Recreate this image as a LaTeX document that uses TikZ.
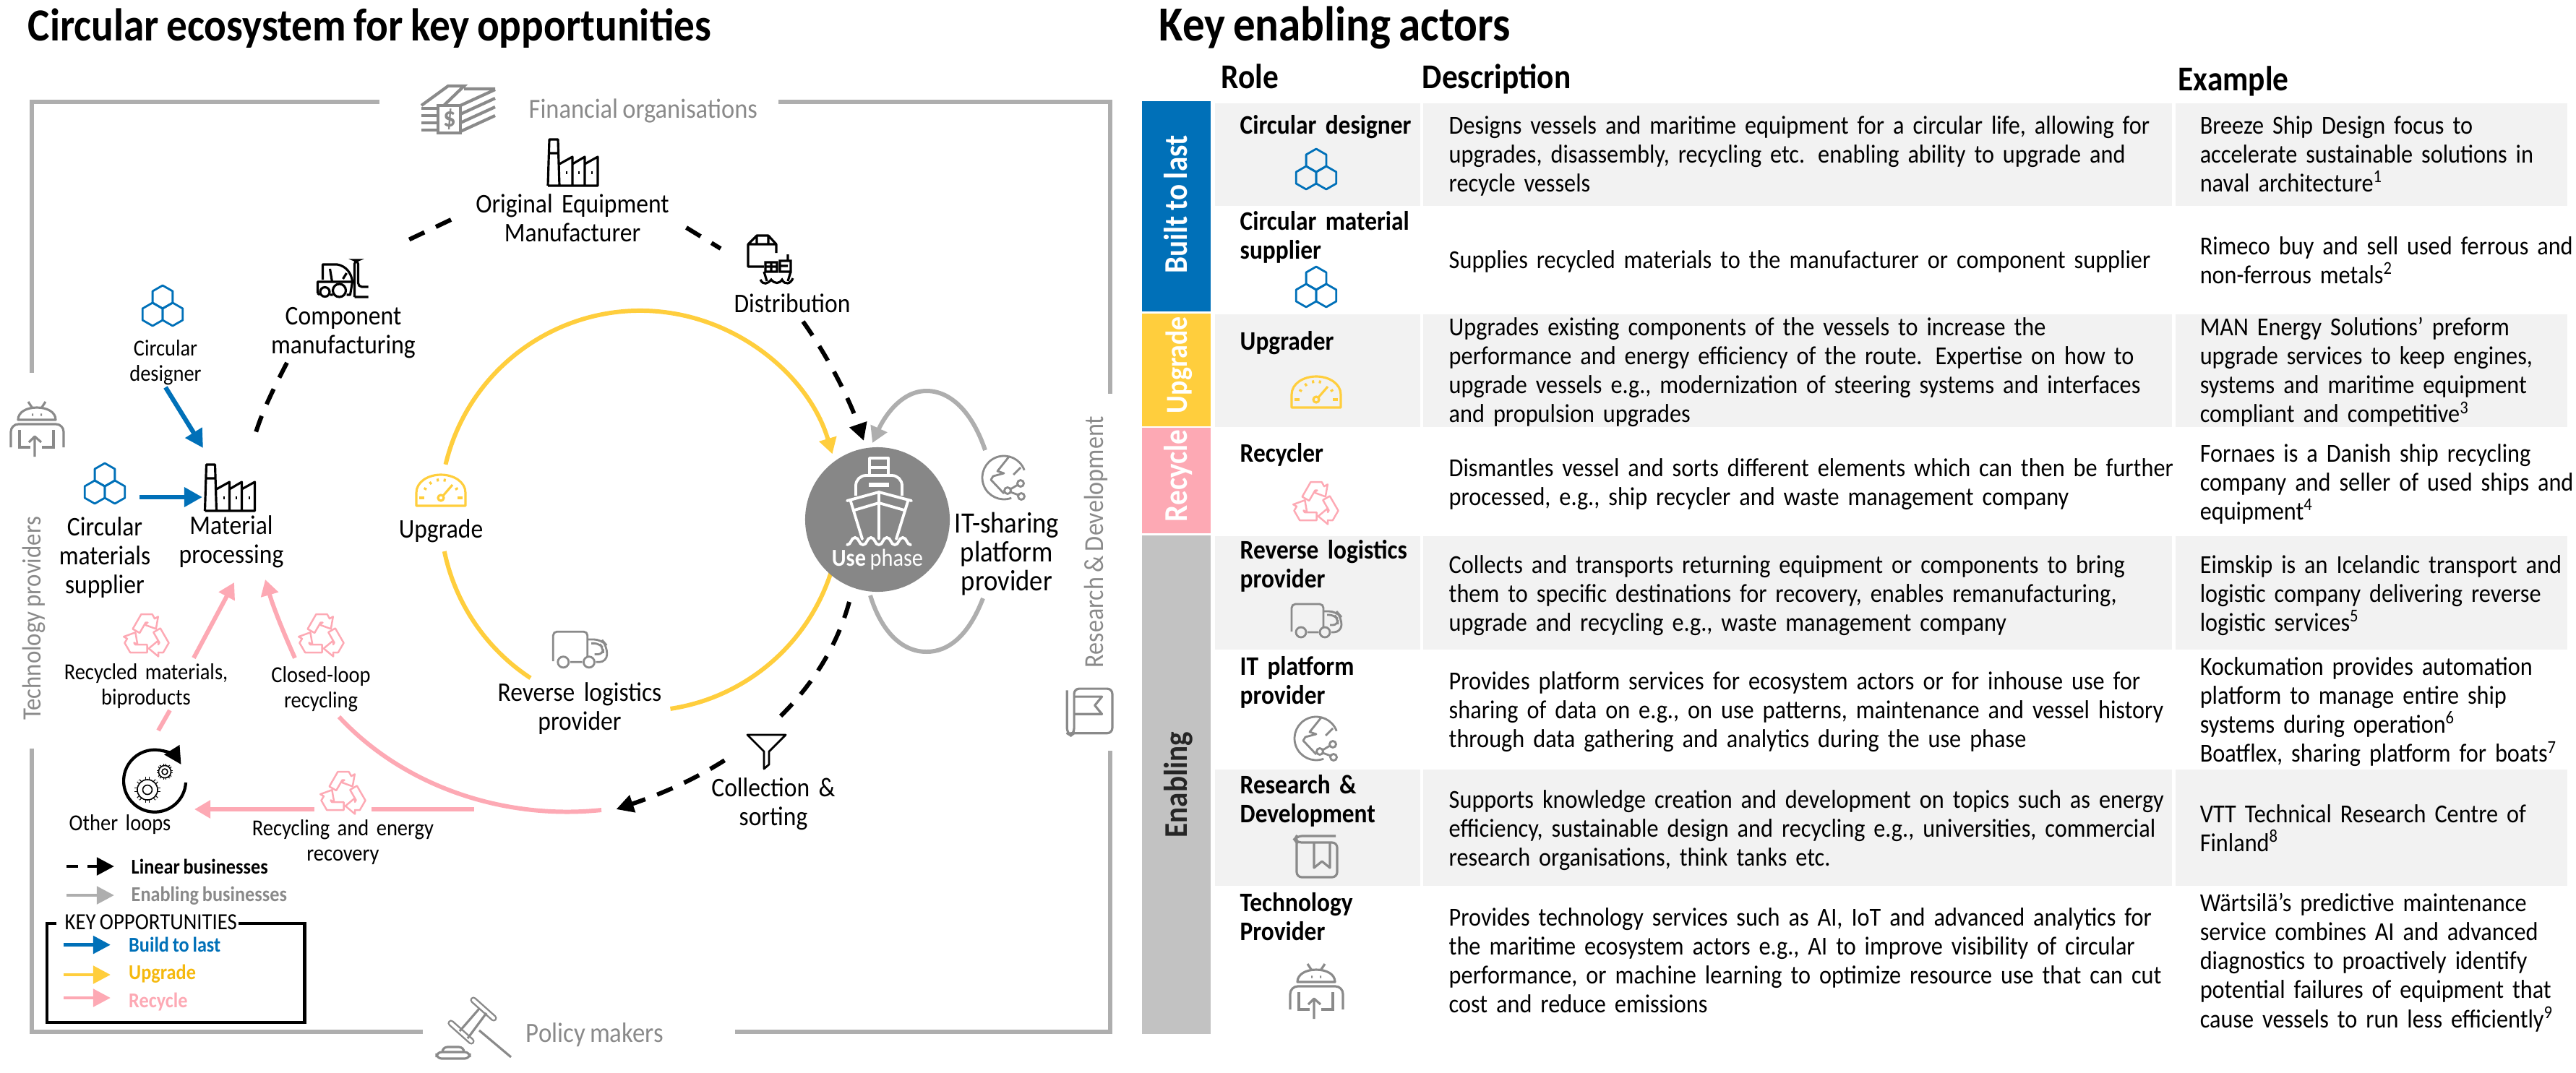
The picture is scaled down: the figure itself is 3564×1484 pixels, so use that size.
\documentclass[tikz,border=0pt]{standalone}
\usepackage{fontspec}
\setmainfont{Carlito}[FakeStretch=0.9,WordSpace=0.8]
\usetikzlibrary{arrows.meta}

\definecolor{mblue}{HTML}{0070B8}
\definecolor{myellow}{HTML}{FFCE3D}
\definecolor{mpink}{HTML}{FDA9B4}
\definecolor{mband}{HTML}{C2C2C2}
\definecolor{mcell}{HTML}{F2F2F2}
\definecolor{mframe}{HTML}{AEAEAE}
\definecolor{mgrey}{HTML}{8A8A8A}
\definecolor{mlegend}{HTML}{F5B90F}

\tikzset{
    frameline/.style={mframe, line width=1.7pt},
    bluearrow/.style={mblue, line width=1.8pt, -{Triangle[length=0.25cm,width=0.26cm]}},
    yellowline/.style={myellow, line width=1.7pt},
    yellowarrow/.style={yellowline, -{Triangle[length=0.22cm,width=0.24cm]}},
    pinkline/.style={mpink, line width=1.7pt},
    pinkarrow/.style={pinkline, -{Triangle[length=0.22cm,width=0.24cm]}},
    greyline/.style={mframe, line width=1.7pt},
    greyarrow/.style={greyline, -{Triangle[length=0.22cm,width=0.24cm]}},
    dashline/.style={black, line width=1.7pt, dash pattern=on 6.6pt off 5pt},
    dasharrow/.style={dashline, -{Triangle[length=0.24cm,width=0.24cm]}},
    tabletext/.style={anchor=base west, inner sep=0pt, align=left, font=\fontsize{10.2}{11.45}\selectfont},
    desctext/.style={tabletext, text width=10.6cm},
    exampletext/.style={tabletext, text width=5.7cm},
    roletext/.style={tabletext, text width=2.85cm, font=\fontsize{10.55}{11.45}\selectfont\bfseries},
    headtext/.style={anchor=base west, inner sep=0pt, font=\fontsize{13.7}{15}\selectfont\bfseries},
    titletext/.style={anchor=base west, inner sep=0pt, font=\fontsize{18.1}{22}\selectfont\bfseries},
    bandtext/.style={rotate=90, inner sep=0pt, text=white, font=\fontsize{13}{15}\selectfont\bfseries},
    actorlabel/.style={anchor=base, inner sep=0pt, text width=3.8cm, align=center, font=\fontsize{10.6}{11.45}\selectfont},
    smalllabel/.style={anchor=base, inner sep=0pt, text width=3.6cm, align=center, font=\fontsize{9}{10.1}\selectfont},
    sidelabel/.style={inner sep=0pt, text=mgrey, font=\fontsize{10.4}{12}\selectfont},
    legendtext/.style={anchor=base west, inner sep=0pt, font=\fontsize{8.3}{10}\selectfont\bfseries},
    pics/hexicon/.style={code={
        \foreach \cx/\cy in {0/-12,-13.9/12,13.9/12}
            \draw[#1, line width=0.8pt, line join=round] ({\cx},{\cy-16}) -- ({\cx+13.9},{\cy-8}) -- ({\cx+13.9},{\cy+8})
                -- ({\cx},{\cy+16}) -- ({\cx-13.9},{\cy+8}) -- ({\cx-13.9},{\cy-8}) -- cycle;
    }},
    pics/factoryicon/.style={code={
        \draw[#1, line width=0.9pt, line join=round] (-34,32) -- (-32,-32) -- (-20,-32) -- (-18,32)
            (-32,-13) -- (-20,-13)
            (-34,32) -- (35,32) -- (35,-8) -- (17,2) -- (17,-8) -- (0,2) -- (0,-8) -- (-18,2)
            (0,2) -- (0,32) (17,2) -- (17,32);
        \draw[#1, line width=0.9pt] (-9,14) -- (-7,14) (8,14) -- (10,14) (26,14) -- (28,14);
    }},
    pics/recycleicon/.style={code={
        \foreach \rr in {0,120,240}
            \draw[#1, line width=0.7pt, line join=round, rotate=\rr, scale=1.1] (-17.6,-9.6) -- (-7,-28) -- (7,-28) -- (10,-22.6)
                -- (14.35,-25.1) -- (11.65,-9.7) -- (-3,-15.1) -- (1.3,-17.6) -- (-1.4,-17.6) -- (-8.9,-4.6) -- cycle;
    }},
    pics/gaugeicon/.style={code={
        \draw[#1, line width=0.9pt, line join=round] (-34,21) -- (-34,3) .. controls (-34,-12) and (-18,-22) .. (0,-22)
            .. controls (18,-22) and (34,-12) .. (34,3) -- (34,21) -- cycle;
        \foreach \aa in {150,125,100,78}
            \draw[#1, line width=0.9pt] ({23*cos(\aa)},{10-23*sin(\aa)}) -- ({27*cos(\aa)},{10-27*sin(\aa)});
        \draw[#1, line width=0.9pt] ({23*cos(30)},{10-23*sin(30)}) -- ({27*cos(30)},{10-27*sin(30)});
        \draw[#1, line width=0.9pt] (-30,10) -- (-23,10) (23,10) -- (30,10);
        \draw[#1, line width=0.9pt] (0,10) circle (4) (3,7) -- (16,-8);
    }},
    pics/truckicon/.style={code={
        \draw[#1, line width=0.8pt, rounded corners=1.5pt] (-34,15) -- (-34,-23) -- (10,-23) -- (10,9);
        \draw[#1, line width=0.8pt, rounded corners=3pt] (10,-13) -- (28,-13) -- (35,-5) -- (35,16) -- (21,16);
        \draw[#1, line width=0.8pt, rounded corners=2pt] (15,-8) -- (25,-8) -- (30,-2) -- (30,6) -- (19,6);
        \draw[#1, line width=0.8pt] (-21,16) circle (7) (12,16) circle (7) (-12,16) -- (3,16);
    }},
    pics/globeicon/.style={code={
        \draw[#1, line width=0.8pt] (28.2,-12.3) arc[start angle=340, end angle=70, radius=30];
        \draw[#1, line width=0.8pt, line join=round] (7,-31) -- (-9,-11) -- (0,-8) -- (-15,-4) -- (-18,1) -- (0,20)
            (23,-16) -- (13,-6);
        \draw[#1, line width=0.8pt] (23,6) circle (4.5) (5,16) circle (4.5) (24,24) circle (4.5)
            (9,14) -- (19,8) (9,18) -- (20,22);
    }},
    pics/bookicon/.style={code={
        \draw[#1, line width=0.9pt, rounded corners=2pt] (27,-28) -- (-27,-28) -- (-30,-23) -- (-27,-19) -- (29,-19) -- (29,29) -- (-27,29) -- (-27,-24);
        \draw[#1, line width=0.9pt, line join=round] (-3,-19) -- (-3,16) -- (8,7) -- (19,16) -- (19,-19);
    }},
    pics/androidicon/.style={code={
        \draw[#1, line width=0.9pt, line join=round] (-26,-13) .. controls (-26,-24) and (-14,-30) .. (0,-30)
            .. controls (14,-30) and (26,-24) .. (26,-13) -- cycle;
        \draw[#1, line width=0.9pt] (-12,-38) -- (-6,-29) (12,-38) -- (6,-29)
            (-7,-20) -- (-5,-20) (5,-20) -- (7,-20);
        \draw[#1, line width=0.9pt, rounded corners=3pt] (-36,25) -- (-36,-7) -- (37,-7) -- (37,25);
        \draw[#1, line width=0.9pt] (-24,1) -- (-24,25) -- (-9,25) (23,1) -- (23,25) -- (7,25);
        \draw[#1, line width=0.9pt, line join=round] (-3,38) -- (-3,10) (-11,18) -- (-3,10) -- (6,18);
    }},
    pics/moneyicon/.style={code={
        \draw[#1, line width=1.2pt] (-28,-6) rectangle (3,32);
        \foreach \oo in {0,12,24,36}
            \draw[#1, line width=1.2pt] (3,{-6+\oo}) -- (51,{-28+\oo});
        \foreach \yy in {-2,8,18,28}
            \draw[#1, line width=1.2pt] (-51,\yy) -- (-28,\yy);
        \draw[#1, line width=1.2pt] (-51,-6) -- (-14,-33) -- (8,-33) -- (-20,-6) (8,-29) -- (51,-29);
        \node[inner sep=0pt, text=mgrey, font=\fontsize{11}{11}\selectfont\bfseries] (moneysign) at (-12,13) {\$};
    }},
    pics/gavelicon/.style={code={
        \draw[#1, line width=0.7pt, line cap=round, double=white, double distance=1.2pt] (-32,-8) -- (-4,17) (-1,-40) -- (27,-15);
        \draw[#1, line width=0.9pt] (-20,3) -- (7,-28) (-9,13) -- (17,-22) (7,2) -- (51,39);
        \draw[#1, line width=0.9pt, rounded corners=2pt] (-44,32) -- (-44,25) -- (-14,25) -- (-14,32) (-52,41) rectangle (-6,32);
    }},
    pics/forklifticon/.style={code={
        \draw[#1, line width=0.9pt, line join=round] (-28,1) -- (-28,-20) -- (-8,-20) .. controls (4,-18) and (12,-8) .. (13,4) -- (10,22) -- (5,22)
            (-35,20) -- (-35,4) -- (13,4) (-35,20) -- (-32,22) (-18,22) -- (-14,22);
        \draw[#1, line width=0.9pt] (-25,18) circle (6.5) (-5,16) circle (9) (-18,-14) -- (-15,4) (5,-8) -- (0,0);
        \draw[#1, line width=0.9pt, rounded corners=1.5pt] (16,25) -- (16,-26) -- (21,-26) -- (21,11) -- (35,11) (16,25) -- (35,25);
    }},
    pics/boxshipicon/.style={code={
        \draw[#1, line width=0.9pt, line join=round] (-9,10) -- (-31,10) -- (-31,-21) -- (8,-21) -- (8,-9)
            (-31,-21) -- (-19,-33) -- (-3,-33) -- (8,-21) (-19,-33) -- (-19,-21) (-3,-33) -- (-3,-21);
        \draw[#1, line width=0.9pt] (-7,4) rectangle (9,17) (-7,10) -- (9,10) (1,4) -- (1,17)
            (13,2) rectangle (28,17) (13,9) -- (24,9) (24,2) -- (24,-7)
            (-9,17) -- (-5,30) (28,17) -- (24,30);
        \draw[#1, line width=0.9pt] (-14,28) .. controls (-10,36) and (-4,34) .. (1,28) .. controls (6,34) and (12,34) .. (16,28)
            .. controls (20,36) and (28,34) .. (31,26);
    }},
    pics/shipicon/.style={code={
        \draw[#1, line width=1.1pt, line join=round] (-13,-36) -- (-13,-60) -- (13,-60) -- (13,-36) (-13,-47) -- (13,-47);
        \draw[#1, line width=1.1pt, rounded corners=4pt] (-32,-8) -- (-32,-36) -- (32,-36) -- (32,-8);
        \draw[#1, line width=1.6pt] (-14,-23) -- (14,-23);
        \draw[#1, line width=1.1pt, line join=round, line cap=round] (-44,-1) -- (0,-13) -- (45,-1)
            (-34,12) -- (0,2) -- (35,12) (-39,0) -- (-23,52) (40,0) -- (24,52) (0,-13) -- (0,52);
        \foreach \wx in {-44,-22,0,22}
            \draw[#1, line width=1.1pt, line cap=round] ({\wx},60) .. controls ({\wx+6},60) and ({\wx+5},50) .. ({\wx+11},50)
                .. controls ({\wx+17},50) and ({\wx+16},60) .. ({\wx+22},60);
    }},
    pics/funnelicon/.style={code={
        \draw[#1, line width=0.8pt, line join=round] (-26,-23) -- (27,-23) -- (4,0) -- (4,18) -- (-3,24) -- (-3,0) -- cycle;
    }},
    pics/gearicon/.style={code={
        \foreach \aa in {0,45,...,315}
            \draw[black, line width=0.35pt, double=white, double distance=#1*0.05pt] ({cos(\aa)*#1*0.7},{sin(\aa)*#1*0.7}) -- ({cos(\aa)*#1},{sin(\aa)*#1});
        \draw[black, fill=white, line width=0.45pt] (0,0) circle ({#1*0.78});
        \draw[black, line width=0.45pt] (0,0) circle ({#1*0.36});
    }}
}

\begin{document}
\begin{tikzpicture}[line cap=butt, line join=miter, x=0.01cm, y=-0.01cm]
    \useasboundingbox (0,0) rectangle (3564,1484);

    % titles
    \node[titletext] (ecotitle) at (38,56) {Circular ecosystem for key opportunities};
    \node[titletext, font=\fontsize{19.3}{22}\selectfont\bfseries] (actortitle) at (1603,56) {Key enabling actors};

    % outer frame
    \draw[frameline] (44,516) -- (44,141) -- (525,141);
    \draw[frameline] (1077,141) -- (1536,141) -- (1536,545);
    \draw[frameline] (1536,1039) -- (1536,1428) -- (1017,1428);
    \draw[frameline] (585,1428) -- (44,1428) -- (44,1036);

    \pic at (634,152) {moneyicon=mgrey};
    \node[anchor=base west, inner sep=0pt, text=mgrey, font=\fontsize{10.9}{12}\selectfont] (finance) at (731,163) {Financial organisations};
    \pic at (656,1424) {gavelicon=mgrey};
    \node[anchor=base west, inner sep=0pt, text=mgrey, font=\fontsize{11}{12}\selectfont] (policy) at (727,1442) {Policy makers};
    \pic at (51,594) {androidicon=mgrey};
    \node[sidelabel, rotate=90, anchor=base] (techprov) at (57,856) {Technology providers};
    \pic[rotate=90, scale=1.1] at (1507,985) {bookicon=mgrey};
    \node[sidelabel, rotate=90, anchor=base, font=\fontsize{10.8}{12}\selectfont] (resdev) at (1526,750) {Research \& Development};

    % big ring
    \coordinate (ringA) at (616.5,642.8);
    \coordinate (ringB) at (614.8,763);
    \coordinate (ringC) at (927.5,980.9);
    \draw[yellowarrow] (ringA) arc[start angle=193.4, end angle=343.5, radius=277];
    \draw[yellowline] (ringB) arc[start angle=168.3, end angle=123.3, radius=277];
    \draw[yellowline] (ringC) arc[start angle=81.4, end angle=17, radius=277];

    % it sharing loop
    \coordinate (itA) at (1363,623);
    \coordinate (itB) at (1360,828);
    \coordinate (useA) at (1207,613);
    \coordinate (useB) at (1204,824);
    \draw[greyarrow] (itA) .. controls (1345,570) and (1315,541) .. (1282,541) .. controls (1245,541) and (1222,580) .. (useA);
    \draw[greyline] (itB) .. controls (1340,880) and (1312,902) .. (1282,902) .. controls (1245,902) and (1218,870) .. (useB);

    % use phase
    \node[circle, fill=mgrey!98!black, minimum size=2cm, inner sep=0pt] (usephase) at (1214,719) {};
    \pic at (1216,694) {shipicon=white};
    \node[anchor=base, inner sep=0pt, text=white, font=\fontsize{9.6}{11.45}\selectfont] (uselabel) at (1214,783) {\textbf{Use} phase};

    % linear chain
    \coordinate (oemW) at (624,304);
    \coordinate (compN) at (563,333);
    \coordinate (compS) at (397,502);
    \coordinate (matN) at (352,605);
    \coordinate (oemE) at (949.5,315);
    \coordinate (distW) at (997,344);
    \coordinate (distS) at (1111,445);
    \coordinate (useN) at (1195,610);
    \coordinate (useS) at (1175,833);
    \coordinate (loopEnd) at (852.5,1120);
    \draw[dashline] (oemW) -- (compN);
    \draw[dashline] (compS) .. controls (380,535) and (362,570) .. (matN);
    \draw[dashline] (oemE) -- (distW);
    \draw[dasharrow] (distS) .. controls (1150,500) and (1178,560) .. (useN);
    \draw[dasharrow] (useS) .. controls (1140,960) and (1030,1060) .. (loopEnd);
    \fill[white] (1006,994) rectangle (1095,1064);

    % actors on the linear chain
    \pic at (792,225) {factoryicon=black};
    \node[actorlabel] (oem) at (792,294) {Original Equipment\\Manufacturer};
    \pic at (474.5,386) {forklifticon=black};
    \node[actorlabel] (component) at (475,449) {Component\\manufacturing};
    \pic at (1066,359) {boxshipicon=black};
    \node[actorlabel] (distribution) at (1096,432) {Distribution};
    \pic at (1389,663) {globeicon=mgrey};
    \node[actorlabel, font=\fontsize{11.6}{11.45}\selectfont] (itsharing) at (1393,737) {IT-sharing\\platform\\provider};
    \pic at (1060,1040) {funnelicon=black};
    \node[actorlabel] (collection) at (1070,1102) {Collection \&\\sorting};
    \pic[scale=1.08] at (802,899) {truckicon=mgrey};
    \node[actorlabel] (reverse) at (802,970) {Reverse logistics\\provider};
    \pic at (610,679) {gaugeicon=myellow};
    \node[actorlabel] (upgrade) at (610,744) {Upgrade};

    % build to last
    \pic at (225,423) {hexicon=mblue};
    \node[smalllabel] (designer) at (229,492) {Circular\\designer};
    \pic at (145,669) {hexicon=mblue};
    \node[actorlabel] (supplier) at (145,741) {Circular\\materials\\supplier};
    \pic at (317.5,675) {factoryicon=black};
    \node[actorlabel] (processing) at (320,739) {Material\\processing};
    \coordinate (designerS) at (229,536);
    \coordinate (factoryA) at (281,620);
    \coordinate (supplierE) at (193,688);
    \coordinate (factoryB) at (280,688);
    \draw[bluearrow] (designerS) -- (factoryA);
    \draw[bluearrow] (supplierE) -- (factoryB);

    % recycle
    \pic at (203,881) {recycleicon=mpink};
    \pic at (445,881) {recycleicon=mpink};
    \pic at (475,1099) {recycleicon=mpink};
    \node[smalllabel] (recycled) at (202,940) {Recycled materials,\\biproducts};
    \node[smalllabel] (closedloop) at (444,944) {Closed-loop\\recycling};
    \node[smalllabel] (energy) at (474.5,1156) {Recycling and energy\\recovery};
    \coordinate (recycledN) at (268,910.6);
    \coordinate (processA) at (324,806);
    \coordinate (recycledS) at (235,983);
    \coordinate (loopsN) at (219,1011);
    \coordinate (closedN) at (408,910.6);
    \coordinate (processB) at (367,802);
    \coordinate (closedS) at (469,992);
    \coordinate (pinkEnd) at (832,1121);
    \coordinate (energyE) at (656,1120);
    \coordinate (energyA) at (514,1120);
    \coordinate (energyB) at (435,1120);
    \coordinate (loopsE) at (269,1120);
    \draw[pinkarrow] (recycledN) -- (processA);
    \draw[pinkline] (recycledS) -- (loopsN);
    \draw[pinkarrow] (closedN) .. controls (392,875) and (378,840) .. (processB);
    \draw[pinkline] (closedS) .. controls (560,1090) and (700,1135) .. (pinkEnd);
    \draw[pinkline] (energyE) -- (energyA);
    \draw[pinkarrow] (energyB) -- (loopsE);

    % other loops
    \coordinate (loopA) at (257,1083);
    \draw[black, line width=1.2pt, -{Triangle[length=0.24cm,width=0.24cm]}] (loopA) arc[start angle=3, end angle=328, radius=43];
    \pic at (204,1093) {gearicon=18};
    \pic at (228,1068) {gearicon=11};
    \node[smalllabel] (otherloops) at (166,1149) {Other loops};

    % legend
    \coordinate (linA) at (92,1199);
    \coordinate (linB) at (108,1199);
    \coordinate (linC) at (121,1199);
    \coordinate (linD) at (158,1199);
    \coordinate (enbA) at (92,1239);
    \coordinate (enbB) at (158,1239);
    \draw[black, line width=1.4pt] (linA) -- (linB);
    \draw[black, line width=1.4pt, -{Triangle[length=0.24cm,width=0.24cm]}] (linC) -- (linD);
    \draw[mframe, line width=1.4pt, -{Triangle[length=0.24cm,width=0.24cm]}] (enbA) -- (enbB);
    \node[legendtext] (linear) at (181,1209) {Linear businesses};
    \node[legendtext, text=mgrey] (enabling) at (181,1247) {Enabling businesses};

    \draw[black, line width=1.2pt] (78,1278) -- (65,1278) -- (65,1415) -- (421.5,1415) -- (421.5,1278) -- (330,1278);
    \node[legendtext, font=\fontsize{9.1}{10}\selectfont] (keyopp) at (89,1286) {KEY OPPORTUNITIES};
    \coordinate (keyA) at (88,1307.6);
    \coordinate (keyB) at (153,1307.6);
    \coordinate (keyC) at (88,1349);
    \coordinate (keyD) at (153,1349);
    \coordinate (keyE) at (88,1381);
    \coordinate (keyF) at (153,1381);
    \draw[mblue, line width=1.4pt, -{Triangle[length=0.24cm,width=0.24cm]}] (keyA) -- (keyB);
    \draw[myellow, line width=1.4pt, -{Triangle[length=0.24cm,width=0.24cm]}] (keyC) -- (keyD);
    \draw[mpink, line width=1.4pt, -{Triangle[length=0.24cm,width=0.24cm]}] (keyE) -- (keyF);
    \node[legendtext, text=mblue] (keybuild) at (177.5,1317) {Build to last};
    \node[legendtext, text=mlegend] (keyupgrade) at (177.5,1355) {Upgrade};
    \node[legendtext, text=mpink] (keyrecycle) at (177.5,1394) {Recycle};

    % table header
    \node[headtext] (headrole) at (1689,122) {Role};
    \node[headtext] (headdesc) at (1967,122) {Description};
    \node[headtext] (headexample) at (3013,125) {Example};

    % colour bands
    \fill[mblue] (1580,140) rectangle (1675,431);
    \fill[myellow] (1580,433.5) rectangle (1675,590);
    \fill[mpink] (1580,592) rectangle (1675,738);
    \fill[mband] (1580,741) rectangle (1675,1431);
    \node[bandtext, anchor=base] (bandbuilt) at (1642,283) {Built to last};
    \node[bandtext, anchor=base, font=\fontsize{12}{15}\selectfont\bfseries] (bandupgrade) at (1642,505) {Upgrade};
    \node[bandtext, anchor=base] (bandrecycle) at (1642,658.5) {Recycle};
    \node[bandtext, anchor=base, text=black!85] (bandenabling) at (1642,1086) {Enabling};

    % shaded rows
    \fill[mcell] (1681,143) rectangle (1965,285);
    \fill[mcell] (1969,143) rectangle (3005,285);
    \fill[mcell] (3010,143) rectangle (3552,285);
    \fill[mcell] (1681,434.5) rectangle (1965,591);
    \fill[mcell] (1969,434.5) rectangle (3005,591);
    \fill[mcell] (3010,434.5) rectangle (3552,591);
    \fill[mcell] (1681,742) rectangle (1965,899);
    \fill[mcell] (1969,742) rectangle (3005,899);
    \fill[mcell] (3010,742) rectangle (3552,899);
    \fill[mcell] (1681,1065) rectangle (1965,1226);
    \fill[mcell] (1969,1065) rectangle (3005,1226);
    \fill[mcell] (3010,1065) rectangle (3552,1226);

    % rows
    \node[roletext] (roleA) at (1715,185) {Circular designer};
    \pic at (1821,234) {hexicon=mblue};
    \node[desctext] (descA) at (2004,185) {Designs vessels and maritime equipment for a circular life, allowing for\\upgrades, disassembly, recycling etc. enabling ability to upgrade and\\recycle vessels};
    \node[exampletext] (examA) at (3043,185) {Breeze Ship Design focus to\\accelerate sustainable solutions in\\naval architecture\textsuperscript{1}};

    \node[roletext] (roleB) at (1715,318) {Circular material\\supplier};
    \pic at (1821,397) {hexicon=mblue};
    \node[desctext] (descB) at (2004,371) {Supplies recycled materials to the manufacturer or component supplier};
    \node[exampletext] (examB) at (3043,352) {Rimeco buy and sell used ferrous and\\non-ferrous metals\textsuperscript{2}};

    \node[roletext] (roleC) at (1715,484) {Upgrader};
    \pic at (1821,543) {gaugeicon=myellow};
    \node[desctext] (descC) at (2004,464) {Upgrades existing components of the vessels to increase the\\performance and energy efficiency of the route. Expertise on how to\\upgrade vessels e.g., modernization of steering systems and interfaces\\and propulsion upgrades};
    \node[exampletext] (examC) at (3043,464) {MAN Energy Solutions’ preform\\upgrade services to keep engines,\\systems and maritime equipment\\compliant and competitive\textsuperscript{3}};

    \node[roletext] (roleD) at (1715,639) {Recycler};
    \pic at (1821,698) {recycleicon=mpink};
    \node[desctext] (descD) at (2004,659) {Dismantles vessel and sorts different elements which can then be further\\processed, e.g., ship recycler and waste management company};
    \node[exampletext] (examD) at (3043,639) {Fornaes is a Danish ship recycling\\company and seller of used ships and\\equipment\textsuperscript{4}};

    \node[roletext] (roleE) at (1715,773) {Reverse logistics\\provider};
    \pic at (1821,859) {truckicon=mgrey};
    \node[desctext] (descE) at (2004,793) {Collects and transports returning equipment or components to bring\\them to specific destinations for recovery, enables remanufacturing,\\upgrade and recycling e.g., waste management company};
    \node[exampletext] (examE) at (3043,793) {Eimskip is an Icelandic transport and\\logistic company delivering reverse\\logistic services\textsuperscript{5}};

    \node[roletext] (roleF) at (1715,934) {IT platform\\provider};
    \pic at (1821,1024) {globeicon=mgrey};
    \node[desctext] (descF) at (2004,954) {Provides platform services for ecosystem actors or for inhouse use for\\sharing of data on e.g., on use patterns, maintenance and vessel history\\through data gathering and analytics during the use phase};
    \node[exampletext] (examF) at (3043,934) {Kockumation provides automation\\platform to manage entire ship\\systems during operation\textsuperscript{6}\\Boatflex, sharing platform for boats\textsuperscript{7}};

    \node[roletext] (roleG) at (1715,1098) {Research \&\\Development};
    \pic at (1821,1185) {bookicon=mgrey};
    \node[desctext] (descG) at (2004,1118) {Supports knowledge creation and development on topics such as energy\\efficiency, sustainable design and recycling e.g., universities, commercial\\research organisations, think tanks etc.};
    \node[exampletext] (examG) at (3043,1138) {VTT Technical Research Centre of\\Finland\textsuperscript{8}};

    \node[roletext] (roleH) at (1715,1261) {Technology\\Provider};
    \pic at (1821,1372) {androidicon=mgrey};
    \node[desctext] (descH) at (2004,1281) {Provides technology services such as AI, IoT and advanced analytics for\\the maritime ecosystem actors e.g., AI to improve visibility of circular\\performance, or machine learning to optimize resource use that can cut\\cost and reduce emissions};
    \node[exampletext] (examH) at (3043,1261) {Wärtsilä’s predictive maintenance\\service combines AI and advanced\\diagnostics to proactively identify\\potential failures of equipment that\\cause vessels to run less efficiently\textsuperscript{9}};
\end{tikzpicture}
\end{document}
